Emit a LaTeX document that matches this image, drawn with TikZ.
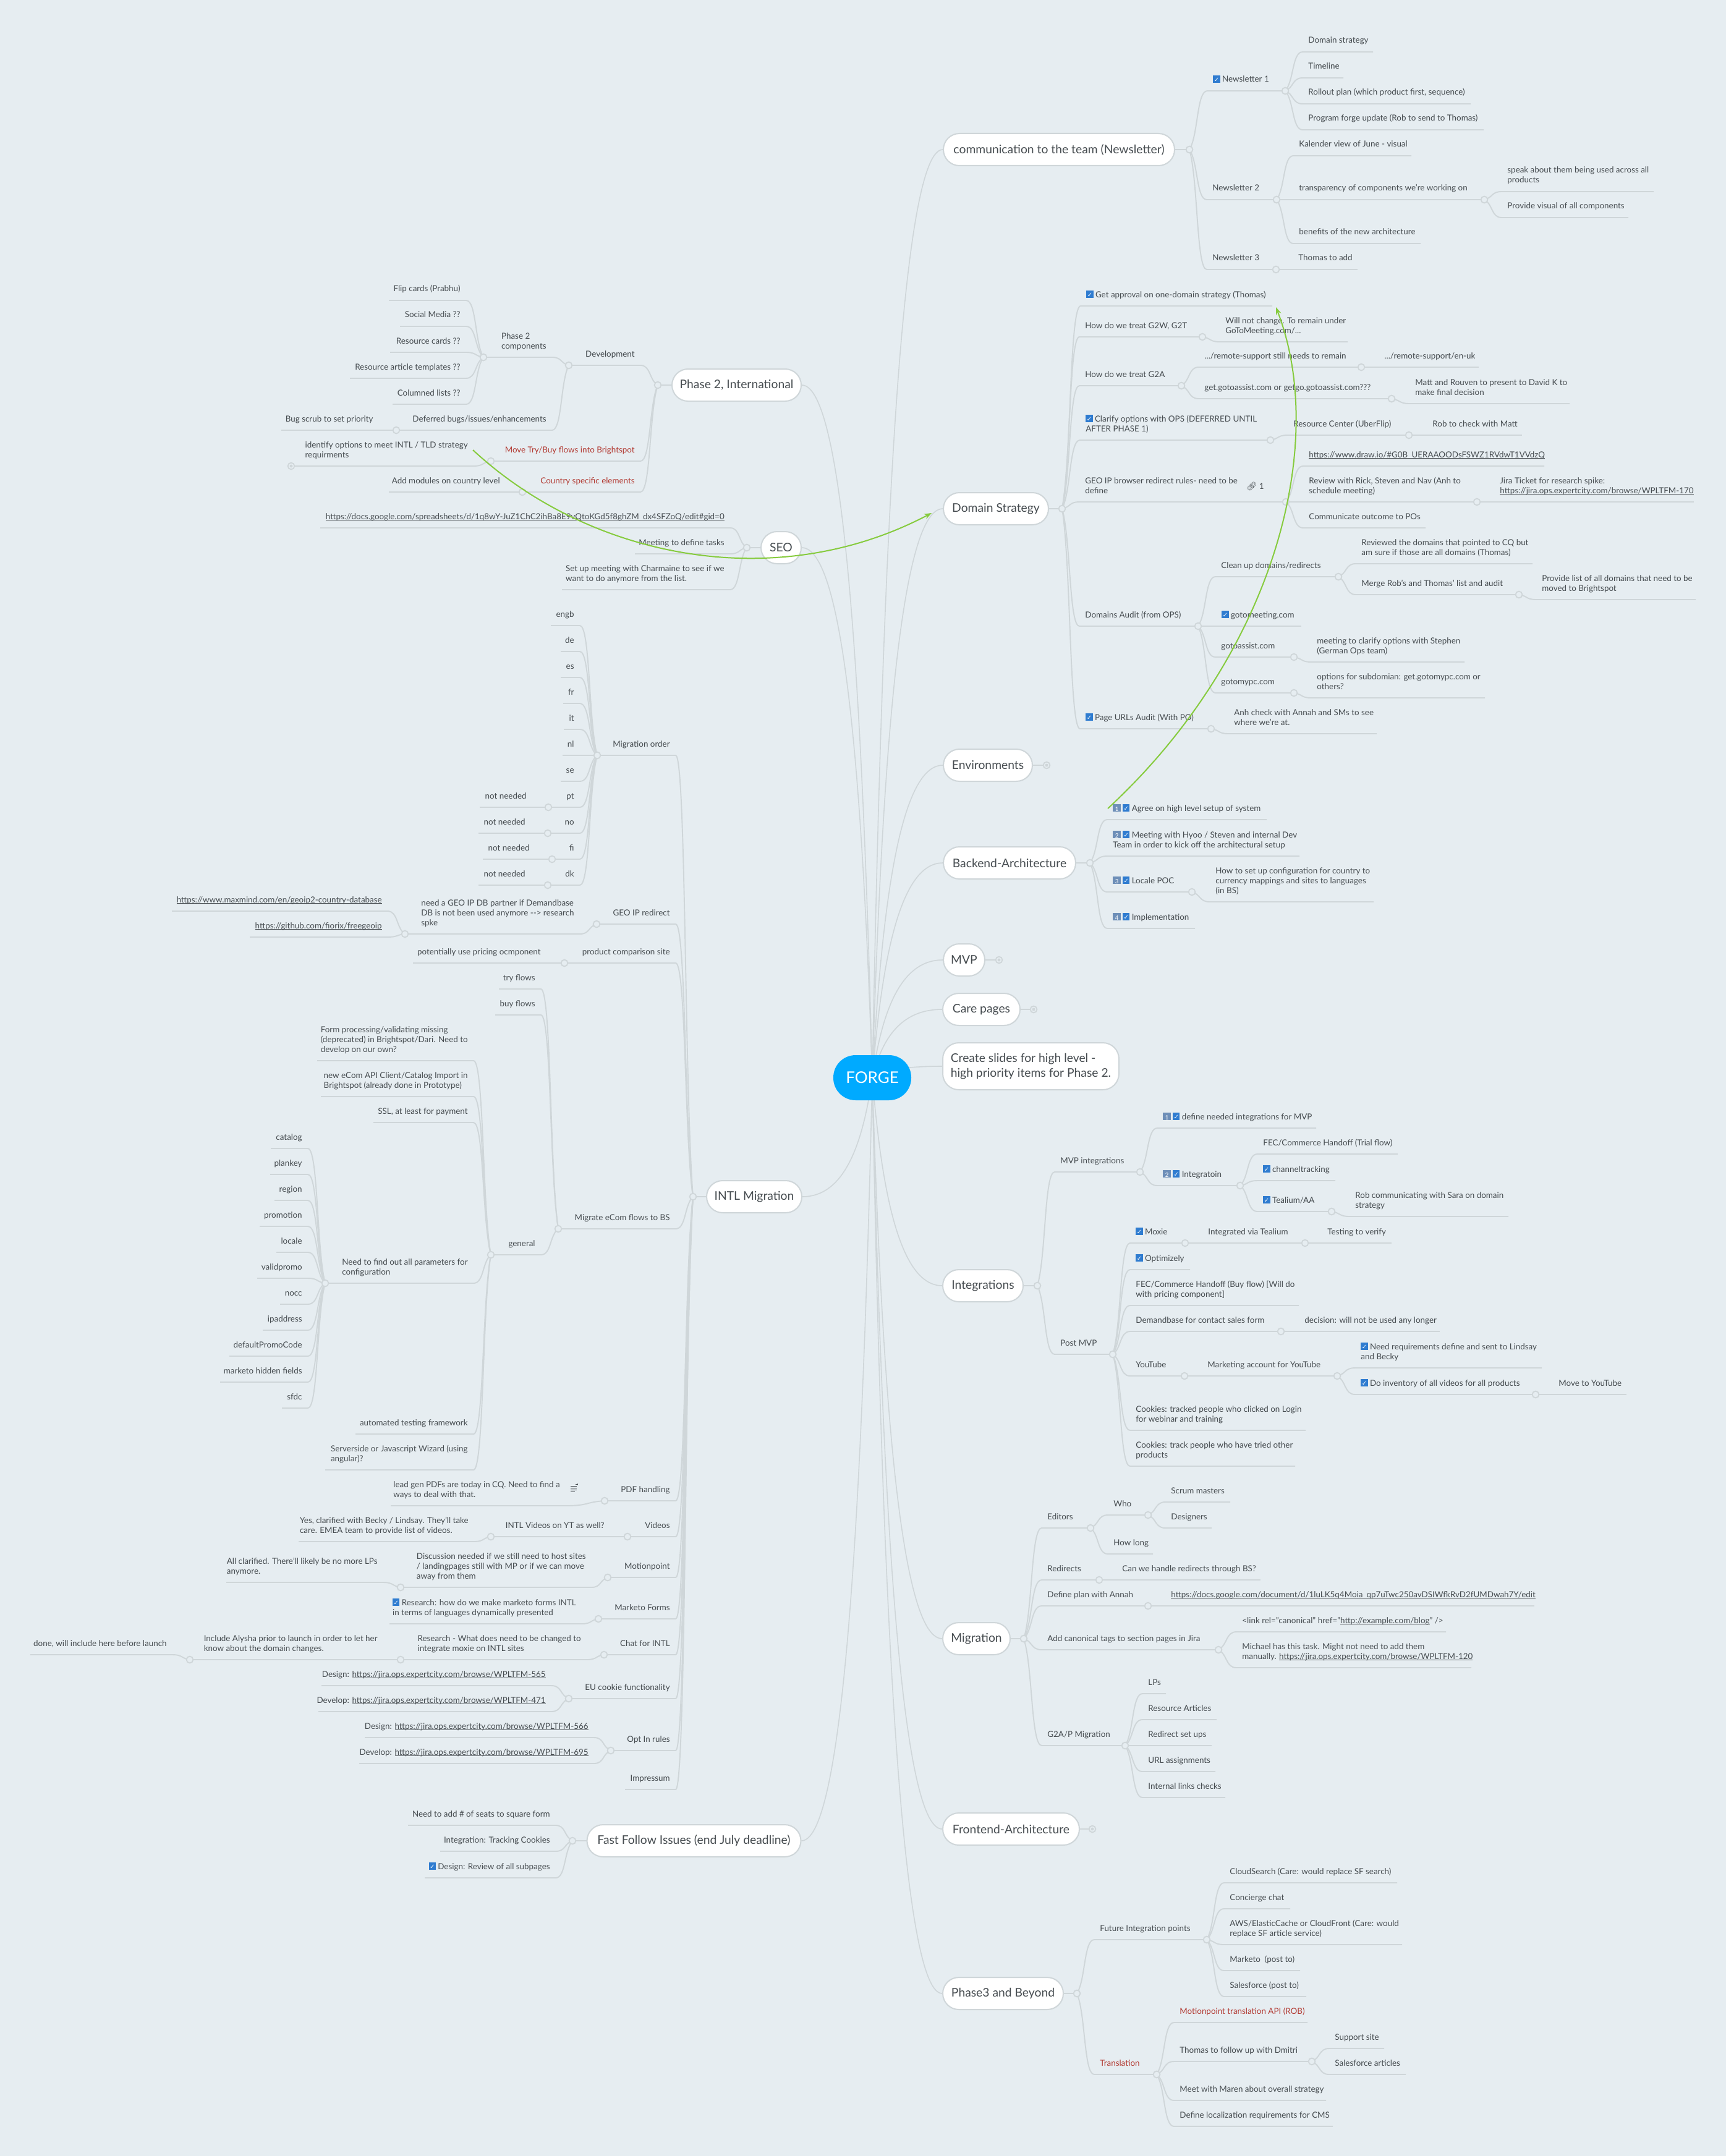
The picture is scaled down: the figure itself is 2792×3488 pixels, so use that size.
\documentclass[tikz,border=0pt]{standalone}
\usepackage{fontspec}
\setmainfont{Lato}
\newfontfamily\dejavu{DejaVu Sans}
\newfontfamily\emoji{Noto Emoji}
\usetikzlibrary{calc,arrows.meta}
\pgfdeclarelayer{background}
\pgfsetlayers{background,main}
\definecolor{bgc}{HTML}{E6EDF1}
\definecolor{brc}{HTML}{CFD6D9}
\definecolor{txc}{HTML}{464C50}
\definecolor{redc}{HTML}{B23A32}
\definecolor{grn}{HTML}{86CB3E}
\definecolor{rootc}{HTML}{00AAFF}
\definecolor{chkblue}{HTML}{2F7CD0}
\definecolor{numblue}{HTML}{6E8FB8}
\newcommand\bodyf{\fontsize{6.7}{8}\selectfont}
\newcommand\pillf{\fontsize{9.65}{12}\selectfont}
\newcommand\mlii[2]{\vbox{\hbox{#1}\hbox{#2}}}
\newcommand\mliii[3]{\vbox{\hbox{#1}\hbox{#2}\hbox{#3}}}
\newsavebox\lnkbox
\newcommand\lnk[1]{\sbox\lnkbox{#1}\rlap{\rule[-0.7pt]{\wd\lnkbox}{0.38pt}}\usebox\lnkbox}
\newcommand\chk{\leavevmode\makebox[0pt][l]{\textcolor{chkblue}{\rule[-0.4pt]{5.6pt}{5.8pt}}}\makebox[5.6pt]{\raisebox{0.2pt}{\textcolor{white}{\dejavu\fontsize{5}{5}\selectfont ✓}}}\hspace{1.7pt}}
\newcommand\numic[1]{\leavevmode\makebox[0pt][l]{\textcolor{numblue}{\rule[-0.4pt]{6.2pt}{5.8pt}}}\makebox[6.2pt]{\textcolor{white}{\fontsize{4.8}{4.8}\selectfont #1}}\hspace{1.7pt}}
\tikzset{
 branch/.style={draw=brc,line width=0.95pt},
 rootline/.style={draw=brc,line width=0.8pt},
 junc/.style={circle,draw=brc,fill=bgc,line width=0.9pt,minimum size=5.4pt,inner sep=0pt},
 txt/.style={inner sep=0pt,text=txc,font=\bodyf},
 redt/.style={text=redc},
 pill/.style={rectangle,rounded corners=13pt,draw=brc,fill=white,line width=1pt,inner sep=0pt,minimum height=26pt,text=txc,font=\pillf},
 rootpill/.style={rectangle,rounded corners=18pt,fill=rootc,inner sep=0pt,minimum width=63pt,minimum height=36.5pt,text=white,font=\fontsize{13}{15}\selectfont},
 link arrow/.style={draw=grn,line width=1pt,-{Stealth[length=6pt,width=4.5pt]}}
}
% connector from a junction to a line start, then along the line
\newcommand\BR[3]{\begin{pgfonlayer}{background}\draw[branch] let \p1=(#1.center),\p2=(#2) in (#1.center) .. controls ({\x1+0.5*(\x2-\x1)},{\y1+0.25*(\y2-\y1)}) and ({\x1+0.4*(\x2-\x1)},\y2) .. (#2) -- (#3);\end{pgfonlayer}}
\newcommand\RT[1]{\begin{pgfonlayer}{background}\draw[rootline] let \p1=(root.center),\p2=(#1) in (root.center) .. controls ({\x1+0.12*(\x2-\x1)},{\y1+0.48*(\y2-\y1)}) and ({\x1+0.35*(\x2-\x1)},\y2) .. (#1);\end{pgfonlayer}}
\newcommand\JN[3]{\node[junc] (#1) at (#2,#3) {};}
\newcommand\JD[3]{\node[junc] (#1) at (#2,#3) {};\fill[brc] (#1.center) circle (1.2pt);}
% right item: [style]{id}{parent}{text left}{line end}{line y}{text}
\newcommand\IR[7][]{\pgfmathsetmacro\xs{#4-9}\coordinate (#2-s) at (\xs,#6);\coordinate (#2-e) at (#5,#6);\node[txt,anchor=base west,#1] (#2) at (#4,#6-14) {#7};\BR{#3}{#2-s}{#2-e}}
% left item: [style]{id}{parent}{text right}{line end}{line y}{text}
\newcommand\IL[7][]{\pgfmathsetmacro\xs{#4+9}\coordinate (#2-s) at (\xs,#6);\coordinate (#2-e) at (#5,#6);\node[txt,anchor=base east,#1] (#2) at (#4,#6-14) {#7};\BR{#3}{#2-s}{#2-e}}
\begin{document}
\begin{tikzpicture}[x=0.5pt,y=-0.5pt]
\useasboundingbox (0,0) rectangle (2792,3488);
\begin{pgfonlayer}{background}\fill[bgc] (0,0) rectangle (2792,3488);\end{pgfonlayer}
\node[rootpill] (root) at (1411,1743.5) {FORGE};
% ---- main nodes
\node[pill,minimum width=187pt] (comm) at (1713,242) {communication to the team (Newsletter)};
\node[pill,minimum width=85pt] (dom) at (1611,823) {Domain Strategy};
\node[pill,minimum width=72pt] (env) at (1598,1238) {Environments};
\node[pill,minimum width=107pt] (back) at (1633,1396) {Backend-Architecture};
\node[pill,minimum width=33.5pt] (mvp) at (1559.5,1553) {MVP};
\node[pill,minimum width=62.5pt] (care) at (1587.5,1633) {Care pages};
\node[pill,minimum width=142.5pt,minimum height=38pt] (slides) at (1667.5,1725) {\mlii{Create slides for high level -}{high priority items for Phase 2.}};
\node[pill,minimum width=65pt] (integ) at (1590,2080) {Integrations};
\node[pill,minimum width=54.5pt] (migr) at (1579.5,2651) {Migration};
\node[pill,minimum width=110.5pt] (front) at (1635.5,2959) {Frontend-Architecture};
\node[pill,minimum width=97.5pt] (ph3) at (1622.5,3225) {Phase3 and Beyond};
\node[pill,minimum width=104.5pt] (ph2) at (1191.5,623) {Phase 2, International};
\node[pill,minimum width=32.5pt] (seo) at (1263.5,886) {SEO};
\node[pill,minimum width=77pt] (intl) at (1220,1936) {INTL Migration};
\node[pill,minimum width=173pt] (fast) at (1122.5,2978) {Fast Follow Issues (end July deadline)};
\RT{comm.west}\RT{dom.west}\RT{env.west}\RT{back.west}\RT{mvp.west}\RT{care.west}\RT{slides.west}\RT{integ.west}\RT{migr.west}\RT{front.west}\RT{ph3.west}
\RT{ph2.east}\RT{seo.east}\RT{intl.east}\RT{fast.east}
% ---- junctions of main nodes
\JN{jcomm}{1924}{242}\JN{jdom}{1718}{823}\JD{jenv}{1693}{1238}\JN{jback}{1763}{1396}\JD{jmvp}{1616}{1553}\JD{jcare}{1672}{1633}
\JN{jinteg}{1678}{2080}\JN{jmigr}{1656}{2651}\JD{jfront}{1767}{2959}\JN{jph3}{1742}{3225}
\JN{jph2}{1064}{623}\JN{jseo}{1208}{886}\JN{jintl}{1121}{1936}\JN{jfast}{926}{2978}
\begin{pgfonlayer}{background}
\foreach \a/\b in {comm/jcomm,dom/jdom,env/jenv,back/jback,mvp/jmvp,care/jcare,integ/jinteg,migr/jmigr,front/jfront,ph3/jph3,ph2/jph2,seo/jseo,intl/jintl,fast/jfast}{\draw[branch] (\a) -- (\b);}
\end{pgfonlayer}
% ---- Newsletter
\JN{jn1}{2079}{147}\IR{n1}{jcomm}{1962}{2079}{147}{\chk Newsletter 1}
\IR{n1a}{jn1}{2116}{2221}{84}{Domain strategy}
\IR{n1b}{jn1}{2116}{2173}{126}{Timeline}
\IR{n1c}{jn1}{2116}{2379}{168}{Rollout plan (which product first, sequence)}
\IR{n1d}{jn1}{2116}{2400}{210}{Program forge update (Rob to send to Thomas)}
\JN{jn2}{2065}{323}\IR{n2}{jcomm}{1961}{2065}{323}{Newsletter 2}
\IR{n2a}{jn2}{2101}{2283}{252}{Kalender view of June - visual}
\JN{jn2b}{2401}{323}\IR{n2b}{jn2}{2101}{2401}{323}{transparency of components we're working on}
\IR{n2b1}{jn2b}{2438}{2675}{310}{\mlii{speak about them being used across all}{products}}
\IR{n2b2}{jn2b}{2438}{2634}{352}{Provide visual of all components}
\IR{n2c}{jn2}{2101}{2298}{394}{benefits of the new architecture}
\JN{jn3}{2064}{436}\IR{n3}{jcomm}{1961}{2064}{436}{Newsletter 3}
\IR{n3a}{jn3}{2100}{2196}{436}{Thomas to add}
% ---- Domain strategy
\IR{d1}{jdom}{1757}{2058}{495}{\chk Get approval on one-domain strategy (Thomas)}
\JN{jd2}{1945}{545}\IR{d2}{jdom}{1755}{1945}{545}{How do we treat G2W, G2T}
\IR{d2a}{jd2}{1982}{2180}{553}{\mlii{Will not change. To remain under}{GoToMeeting.com/...}}
\JN{jd3}{1911}{624}\IR{d3}{jdom}{1755}{1911}{624}{How do we treat G2A}
\JN{jd3a}{2202}{594}\IR{d3a}{jd3}{1948}{2202}{594}{.../remote-support still needs to remain}
\IR{d3a1}{jd3a}{2239}{2392}{594}{.../remote-support/en-uk}
\JN{jd3b}{2251}{645}\IR{d3b}{jd3}{1948}{2251}{645}{get.gotoassist.com or getgo.gotoassist.com???}
\IR{d3b1}{jd3b}{2289}{2539}{653}{\mlii{Matt and Rouven to present to David K to}{make final decision}}
\JN{jd4}{2055}{712}\IR{d4}{jdom}{1756}{2055}{712}{\mlii{\chk Clarify options with OPS (DEFERRED UNTIL}{AFTER PHASE 1)}}
\JN{jd4a}{2279}{704}\IR{d4a}{jd4}{2092}{2279}{704}{Resource Center (UberFlip)}
\IR{d4a1}{jd4a}{2317}{2462}{704}{Rob to check with Matt}
\JN{jd5}{2080}{812}\IR{d5}{jdom}{1755}{2080}{812}{\mlii{GEO IP browser redirect rules- need to be}{define}}
\node[txt,anchor=base west] (d5icon) at (2016,791) {{\emoji 🔗} 1};
\IR{d5a}{jd5}{2117}{2498}{754}{\lnk{https://www.draw.io/\#G0B\_UERAAOODsFSWZ1RVdwT1VVdzQ}}
\JN{jd5b}{2389}{812}\IR{d5b}{jd5}{2117}{2389}{812}{\mlii{Review with Rick, Steven and Nav (Anh to}{schedule meeting)}}
\IR{d5b1}{jd5b}{2426}{2740}{812}{\mlii{Jira Ticket for research spike:}{\lnk{https://jira.ops.expertcity.com/browse/WPLTFM-170}}}
\IR{d5c}{jd5}{2117}{2306}{854}{Communicate outcome to POs}
\JN{jd6}{1938}{1013}\IR{d6}{jdom}{1755}{1938}{1013}{Domains Audit (from OPS)}
\JN{jd6a}{2165}{933}\IR{d6a}{jd6}{1975}{2165}{933}{Clean up domains/redirects}
\IR{d6a1}{jd6a}{2202}{2479}{912}{\mlii{Reviewed the domains that pointed to CQ but}{am sure if those are all domains (Thomas)}}
\JN{jd6a2}{2457}{962}\IR{d6a2}{jd6a}{2202}{2457}{962}{Merge Rob's and Thomas' list and audit}
\IR{d6a3}{jd6a2}{2494}{2743}{970}{\mlii{Provide list of all domains that need to be}{moved to Brightspot}}
\IR{d6b}{jd6}{1976}{2105}{1013}{\chk gotomeeting.com}
\JN{jd6c}{2093}{1063}\IR{d6c}{jd6}{1975}{2093}{1063}{gotoassist.com}
\IR{d6c1}{jd6c}{2130}{2369}{1071}{\mlii{meeting to clarify options with Stephen}{(German Ops team)}}
\JN{jd6d}{2093}{1121}\IR{d6d}{jd6}{1975}{2093}{1121}{gotomypc.com}
\IR{d6d1}{jd6d}{2130}{2402}{1129}{\mlii{options for subdomian: get.gotomypc.com or}{others?}}
\JN{jd7}{1959}{1179}\IR{d7}{jdom}{1756}{1959}{1179}{\chk Page URLs Audit (With PO)}
\IR{d7a}{jd7}{1996}{2227}{1187}{\mlii{Anh check with Annah and SMs to see}{where we're at.}}
% ---- Backend
\IR{b1}{jback}{1800}{2049}{1326}{\numic{1}\chk Agree on high level setup of system}
\IR{b2}{jback}{1800}{2102}{1385}{\mlii{\numic{2}\chk Meeting with Hyoo / Steven and internal Dev}{Team in order to kick off the architectural setup}}
\JN{jb3}{1928}{1443}\IR{b3}{jback}{1800}{1928}{1443}{\numic{3}\chk Locale POC}
\IR{b3a}{jb3}{1966}{2222}{1459}{\mliii{How to set up configuration for country to}{currency mappings and sites to languages}{(in BS)}}
\IR{b4}{jback}{1800}{1933}{1502}{\numic{4}\chk Implementation}
% ---- Integrations
\JN{ji1}{1844}{1896}\IR{i1}{jinteg}{1715}{1844}{1896}{MVP integrations}
\IR{i1a}{ji1}{1881}{2129}{1825}{\numic{1}\chk define needed integrations for MVP}
\JN{ji1b}{2006}{1918}\IR{i1b}{ji1}{1881}{2006}{1918}{\numic{2}\chk Integratoin}
\IR{i1b1}{ji1b}{2043}{2261}{1867}{FEC/Commerce Handoff (Trial flow)}
\IR{i1b2}{ji1b}{2043}{2160}{1910}{\chk channeltracking}
\JN{ji1b3}{2154}{1960}\IR{i1b3}{ji1b}{2043}{2154}{1960}{\chk Tealium/AA}
\IR{i1b4}{ji1b3}{2192}{2440}{1968}{\mlii{Rob communicating with Sara on domain}{strategy}}
\JN{ji2}{1800}{2191}\IR{i2}{jinteg}{1715}{1800}{2191}{Post MVP}
\JN{ji2a}{1917}{2011}\IR{i2a}{ji2}{1837}{1917}{2011}{\chk Moxie}
\JN{ji2a1}{2111}{2011}\IR{i2a1}{ji2a}{1954}{2111}{2011}{Integrated via Tealium}
\IR{i2a2}{ji2a1}{2147}{2251}{2011}{Testing to verify}
\IR{i2b}{ji2}{1837}{1925}{2054}{\chk Optimizely}
\IR{i2c}{ji2}{1837}{2101}{2112}{\mlii{FEC/Commerce Handoff (Buy flow) [Will do}{with pricing component]}}
\JN{ji2d}{2072}{2154}\IR{i2d}{ji2}{1837}{2072}{2154}{Demandbase for contact sales form}
\IR{i2d1}{ji2d}{2110}{2329}{2154}{decision: will not be used any longer}
\JN{ji2e}{1916}{2226}\IR{i2e}{ji2}{1837}{1916}{2226}{YouTube}
\JN{ji2e1}{2163}{2226}\IR{i2e1}{ji2e}{1953}{2163}{2226}{Marketing account for YouTube}
\IR{i2e2}{ji2e1}{2201}{2494}{2213}{\mlii{\chk Need requirements define and sent to Lindsay}{and Becky}}
\JN{ji2e3}{2484}{2256}\IR{i2e3}{ji2e1}{2201}{2484}{2256}{\chk Do inventory of all videos for all products}
\IR{i2e4}{ji2e3}{2521}{2631}{2256}{Move to YouTube}
\IR{i2f}{ji2}{1837}{2112}{2314}{\mlii{Cookies: tracked people who clicked on Login}{for webinar and training}}
\IR{i2g}{ji2}{1837}{2095}{2372}{\mlii{Cookies: track people who have tried other}{products}}
% ---- Migration
\JN{jm1}{1764}{2472}\IR{m1}{jmigr}{1694}{1764}{2472}{Editors}
\JN{jm1a}{1857}{2451}\IR{m1a}{jm1}{1801}{1857}{2451}{Who}
\IR{m1a1}{jm1a}{1894}{1990}{2430}{Scrum masters}
\IR{m1a2}{jm1a}{1894}{1960}{2472}{Designers}
\IR{m1b}{jm1}{1801}{1865}{2514}{How long}
\JN{jm2}{1778}{2556}\IR{m2}{jmigr}{1694}{1778}{2556}{Redirects}
\IR{m2a}{jm2}{1815}{2039}{2556}{Can we handle redirects through BS?}
\JN{jm3}{1857}{2598}\IR{m3}{jmigr}{1694}{1857}{2598}{Define plan with Annah}
\IR{m3a}{jm3}{1894}{2482}{2598}{\lnk{https://docs.google.com/document/d/1luLK5q4Moia\_qp7uTwc250avDSIWfkRvD2fUMDwah7Y/edit}}
\JN{jm4}{1971}{2669}\IR{m4}{jmigr}{1694}{1971}{2669}{Add canonical tags to section pages in Jira}
\IR{m4a}{jm4}{2009}{2339}{2640}{<link rel="canonical" href="\lnk{http://example.com/blog}" />}
\IR{m4b}{jm4}{2009}{2380}{2698}{\mlii{Michael has this task. Might not need to add them}{manually. \lnk{https://jira.ops.expertcity.com/browse/WPLTFM-120}}}
\JN{jm5}{1820}{2824}\IR{m5}{jmigr}{1694}{1820}{2824}{G2A/P Migration}
\IR{m5a}{jm5}{1857}{1886}{2740}{LPs}
\IR{m5b}{jm5}{1857}{1968}{2782}{Resource Articles}
\IR{m5c}{jm5}{1857}{1960}{2824}{Redirect set ups}
\IR{m5d}{jm5}{1857}{1966}{2866}{URL assignments}
\IR{m5e}{jm5}{1857}{1982}{2908}{Internal links checks}
% ---- Phase 3
\JN{jp1}{1952}{3138}\IR{p1}{jph3}{1779}{1952}{3138}{Future Integration points}
\IR{p1a}{jp1}{1989}{2260}{3046}{CloudSearch (Care: would replace SF search)}
\IR{p1b}{jp1}{1989}{2087}{3088}{Concierge chat}
\IR{p1c}{jp1}{1989}{2268}{3146}{\mlii{AWS/ElasticCache or CloudFront (Care: would}{replace SF article service)}}
\IR{p1d}{jp1}{1989}{2103}{3188}{Marketo\ \ (post to)}
\IR{p1e}{jp1}{1989}{2113}{3230}{Salesforce (post to)}
\JN{jp2}{1871}{3356}\IR[redt]{p2}{jph3}{1779}{1871}{3356}{Translation}
\IR[redt]{p2a}{jp2}{1908}{2115}{3272}{Motionpoint translation API (ROB)}
\JN{jp2b}{2122}{3335}\IR{p2b}{jp2}{1908}{2122}{3335}{Thomas to follow up with Dmitri}
\IR{p2b1}{jp2b}{2159}{2239}{3314}{Support site}
\IR{p2b2}{jp2b}{2159}{2274}{3356}{Salesforce articles}
\IR{p2c}{jp2}{1908}{2145}{3398}{Meet with Maren about overall strategy}
\IR{p2d}{jp2}{1908}{2156}{3440}{Define localization requirements for CMS}
% ---- Phase 2
\JN{jq1}{920}{591}\IL{q1}{jph2}{1027}{920}{591}{Development}
\JN{jq1a}{782}{578}\IL{q1a}{jq1}{884}{782}{578}{\mlii{Phase 2}{components}}
\IL{q1a1}{jq1a}{745}{629}{486}{Flip cards (Prabhu)}
\IL{q1a2}{jq1a}{745}{647}{528}{Social Media ??}
\IL{q1a3}{jq1a}{745}{631}{570}{Resource cards ??}
\IL{q1a4}{jq1a}{745}{566}{612}{Resource article templates ??}
\IL{q1a5}{jq1a}{745}{635}{654}{Columned lists ??}
\JN{jq1b}{641}{696}\IL{q1b}{jq1}{884}{641}{696}{Deferred bugs/issues/enhancements}
\IL{q1b1}{jq1b}{604}{455}{696}{Bug scrub to set priority}
\JN{jq2}{794}{746}\IL[redt]{q2}{jph2}{1027}{794}{746}{Move Try/Buy flows into Brightspot}
\JD{jq2a}{471}{754}\IL{q2a}{jq2}{757}{471}{754}{\mlii{identify options to meet INTL / TLD strategy}{requirments}}
\JN{jq3}{845}{796}\IL[redt]{q3}{jph2}{1027}{845}{796}{Country specific elements}
\IL{q3a}{jq3}{809}{629}{796}{Add modules on country level}
% ---- SEO
\IL{s1}{jseo}{1172}{518}{854}{\lnk{https://docs.google.com/spreadsheets/d/1q8wY-JuZ1ChC2ihBa8E9vQtoKGd5f8ghZM\_dx4SFZoQ/edit\#gid=0}}
\IL{s2}{jseo}{1172}{1027}{896}{Meeting to define tasks}
\IL{s3}{jseo}{1172}{909}{954}{\mlii{Set up meeting with Charmaine to see if we}{want to do anymore from the list.}}
% ---- INTL Migration
\JN{jt1}{966}{1222}\IL{t1}{jintl}{1084}{966}{1222}{Migration order}
\IL{t1a}{jt1}{929}{891}{1012}{engb}
\IL{t1b}{jt1}{929}{907}{1054}{de}
\IL{t1c}{jt1}{929}{907}{1096}{es}
\IL{t1d}{jt1}{929}{911}{1138}{fr}
\IL{t1e}{jt1}{929}{912}{1180}{it}
\IL{t1f}{jt1}{929}{910}{1222}{nl}
\IL{t1g}{jt1}{929}{907}{1264}{se}
\JN{jt1h}{887}{1306}\IL{t1h}{jt1}{929}{887}{1306}{pt}
\IL{t1h1}{jt1h}{852}{776}{1306}{not needed}
\JN{jt1i}{886}{1348}\IL{t1i}{jt1}{929}{886}{1348}{no}
\IL{t1i1}{jt1i}{850}{774}{1348}{not needed}
\JN{jt1j}{893}{1390}\IL{t1j}{jt1}{929}{893}{1390}{fi}
\IL{t1j1}{jt1j}{857}{781}{1390}{not needed}
\JN{jt1k}{886}{1432}\IL{t1k}{jt1}{929}{886}{1432}{dk}
\IL{t1k1}{jt1k}{850}{774}{1432}{not needed}
\JN{jt2}{965}{1495}\IL{t2}{jintl}{1084}{965}{1495}{GEO IP redirect}
\JN{jt2a}{655}{1511}\IL{t2a}{jt2}{929}{655}{1511}{\mliii{need a GEO IP DB partner if Demandbase}{DB is not been used anymore -{}-> research}{spke}}
\IL{t2a1}{jt2a}{618}{278}{1474}{\lnk{https://www.maxmind.com/en/geoip2-country-database}}
\IL{t2a2}{jt2a}{618}{404}{1516}{\lnk{https://github.com/fiorix/freegeoip}}
\JN{jt3}{913}{1558}\IL{t3}{jintl}{1084}{913}{1558}{product comparison site}
\IL{t3a}{jt3}{875}{668}{1558}{potentially use pricing ocmponent}
\JN{jt4}{903}{1988}\IL{t4}{jintl}{1084}{903}{1988}{Migrate eCom flows to BS}
\IL{t4a}{jt4}{866}{807}{1600}{try flows}
\IL{t4b}{jt4}{866}{801}{1642}{buy flows}
\JN{jt4c}{794}{2030}\IL{t4c}{jt4}{866}{794}{2030}{general}
\IL{t4c1}{jt4c}{757}{513}{1716}{\mliii{Form processing/validating missing}{(deprecated) in Brightspot/Dari. Need to}{develop on our own?}}
\IL{t4c2}{jt4c}{757}{519}{1774}{\mlii{new eCom API Client/Catalog Import in}{Brightspot (already done in Prototype)}}
\IL{t4c3}{jt4c}{757}{604}{1816}{SSL, at least for payment}
\JN{jt4d}{526}{2076}\IL{t4d}{jt4c}{757}{526}{2076}{\mlii{Need to find out all parameters for}{configuration}}
\IL{t4d1}{jt4d}{489}{438}{1858}{catalog}
\IL{t4d2}{jt4d}{489}{437}{1900}{plankey}
\IL{t4d3}{jt4d}{489}{444}{1942}{region}
\IL{t4d4}{jt4d}{489}{420}{1984}{promotion}
\IL{t4d5}{jt4d}{489}{447}{2026}{locale}
\IL{t4d6}{jt4d}{489}{416}{2068}{validpromo}
\IL{t4d7}{jt4d}{489}{453}{2110}{nocc}
\IL{t4d8}{jt4d}{489}{425}{2152}{ipaddress}
\IL{t4d9}{jt4d}{489}{371}{2194}{defaultPromoCode}
\IL{t4d10}{jt4d}{489}{356}{2236}{marketo hidden fields}
\IL{t4d11}{jt4d}{489}{456}{2278}{sfdc}
\IL{t4e}{jt4c}{757}{575}{2320}{automated testing framework}
\IL{t4f}{jt4c}{757}{526}{2378}{\mlii{Serverside or Javascript Wizard (using}{angular)?}}
\JN{jt5}{978}{2428}\IL{t5}{jintl}{1084}{978}{2428}{PDF handling}
\IL{t5a}{jt5}{906}{632}{2436}{\mlii{lead gen PDFs are today in CQ. Need to find a}{ways to deal with that.}}
\draw[txc,line width=0.5pt] (923,2404)--(933,2404) (923,2407)--(933,2407) (923,2410)--(933,2410) (923,2413)--(930,2413) (933,2399)--(933,2403) (931,2401)--(935,2401);
\JN{jt6}{1015}{2486}\IL{t6}{jintl}{1084}{1015}{2486}{Videos}
\JN{jt6a}{794}{2486}\IL{t6a}{jt6}{978}{794}{2486}{INTL Videos on YT as well?}
\IL{t6a1}{jt6a}{758}{483}{2494}{\mlii{Yes, clarified with Becky / Lindsay. They'll take}{care. EMEA team to provide list of videos.}}
\JN{jt7}{983}{2552}\IL{t7}{jintl}{1084}{983}{2552}{Motionpoint}
\JN{jt7a}{648}{2568}\IL{t7a}{jt7}{948}{648}{2568}{\mliii{Discussion needed if we still need to host sites}{/ landingpages still with MP or if we can move}{away from them}}
\IL{t7a1}{jt7a}{611}{366}{2560}{\mlii{All clarified. There'll likely be no more LPs}{anymore.}}
\JN{jt8}{968}{2619}\IL{t8}{jintl}{1084}{968}{2619}{Marketo Forms}
\IL{t8a}{jt8}{932}{630}{2627}{\mlii{\chk Research: how do we make marketo forms INTL}{in terms of languages dynamically presented}}
\JN{jt9}{977}{2677}\IL{t9}{jintl}{1084}{977}{2677}{Chat for INTL}
\JN{jt9a}{648}{2685}\IL{t9a}{jt9}{940}{648}{2685}{\mlii{Research - What does need to be changed to}{integrate moxie on INTL sites}}
\JN{jt9b}{307}{2685}\IL{t9b}{jt9a}{611}{307}{2685}{\mlii{Include Alysha prior to launch in order to let her}{know about the domain changes.}}
\IL{t9c}{jt9b}{270}{49}{2677}{done, will include here before launch}
\JN{jt10}{920}{2748}\IL{t10}{jintl}{1084}{920}{2748}{EU cookie functionality}
\IL{t10a}{jt10}{883}{520}{2727}{Design: \lnk{https://jira.ops.expertcity.com/browse/WPLTFM-565}}
\IL{t10b}{jt10}{883}{515}{2769}{Develop: \lnk{https://jira.ops.expertcity.com/browse/WPLTFM-471}}
\JN{jt11}{988}{2832}\IL{t11}{jintl}{1084}{988}{2832}{Opt In rules}
\IL{t11a}{jt11}{952}{590}{2811}{Design: \lnk{https://jira.ops.expertcity.com/browse/WPLTFM-566}}
\IL{t11b}{jt11}{952}{581}{2853}{Develop: \lnk{https://jira.ops.expertcity.com/browse/WPLTFM-695}}
\IL{t12}{jintl}{1084}{1011}{2895}{Impressum}
% ---- Fast follow
\IL{f1}{jfast}{890}{660}{2953}{Need to add \# of seats to square form}
\IL{f2}{jfast}{890}{712}{2995}{Integration: Tracking Cookies}
\IL{f3}{jfast}{890}{687}{3038}{\chk Design: Review of all subpages}
% ---- green links
\coordinate (g1s) at (765,728);\coordinate (g1e) at (1507,830);
\coordinate (g2s) at (1792,1308);\coordinate (g2e) at (2064,497);
\draw[link arrow] (g1s) .. controls (950,900) and (1250,965) .. (g1e);
\draw[link arrow] (g2s) .. controls (2060,1060) and (2150,720) .. (g2e);
\end{tikzpicture}
\end{document}
